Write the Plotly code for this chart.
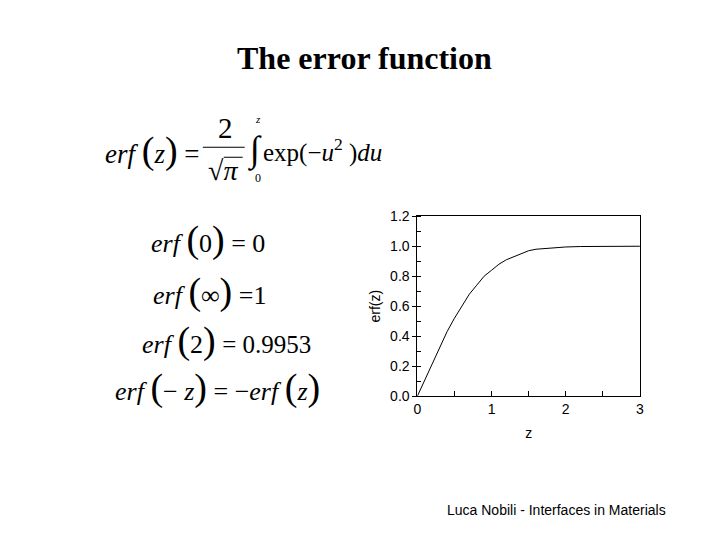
import plotly.graph_objects as go

# values
z_vals = [0.0, 0.1, 0.2, 0.3, 0.4, 0.5, 0.6, 0.7, 0.8, 0.9, 1.0,
          1.1, 1.2, 1.3, 1.4, 1.5, 1.6, 1.7, 1.8, 1.9, 2.0,
          2.2, 2.4, 2.6, 2.8, 3.0]
erf_vals = [0.0, 0.11, 0.22, 0.33, 0.43, 0.52, 0.60, 0.68, 0.74, 0.80, 0.84,
            0.88, 0.91, 0.93, 0.95, 0.97, 0.98, 0.985, 0.99, 0.993, 0.995,
            0.998, 0.999, 1.0, 1.0, 1.0]

x_ticks = [0, 1, 2, 3]
y_ticks = [0.0, 0.2, 0.4, 0.6, 0.8, 1.0, 1.2]

W, H = 728, 546
SERIF = "Liberation Serif"
SANS = "Liberation Sans"


# the photographed page comes out slightly squeezed, so place by screen pixel
def px(x):
    return ((x - 2.8) / 0.991) / W


def py(y):
    return 1 - ((y - 7.7) / 0.971) / H


def big(s, size=38):
    return f'<span style="font-family:{SERIF};font-size:{size}px">{s}</span>'


def rm(s, size=26):
    return f'<span style="font-family:{SERIF};font-size:{size}px">{s}</span>'


fig = go.Figure()
fig.add_trace(go.Scatter(
    x=z_vals, y=erf_vals, mode="lines",
    line=dict(color="black", width=1),
    showlegend=False, hoverinfo="skip",
))

axis_common = dict(
    showgrid=False, zeroline=False, showline=True, mirror=True,
    linecolor="black", linewidth=1,
    tickfont=dict(family=SANS, size=14, color="black"),
    tickcolor="black",
)

fig.update_xaxes(
    range=[0, 3], tickvals=x_ticks, ticks="inside", ticklen=5,
    minor=dict(dtick=0.5, ticks="inside", ticklen=5, tickcolor="black"),
    domain=[px(417), px(640)],
    title=dict(text="z", font=dict(family=SANS, size=14, color="black"), standoff=12),
    **axis_common,
)
fig.update_yaxes(
    range=[0, 1.2], tickvals=y_ticks, ticktext=[f"{v:.1f}" for v in y_ticks],
    ticks="outside", ticklen=4,
    minor=dict(dtick=0.1, ticks="inside", ticklen=4, tickcolor="black"),
    domain=[py(396), py(216)],
    title=dict(text="erf(z)", font=dict(family=SANS, size=14, color="black"), standoff=6),
    **axis_common,
)

ann = []


def text(x, y, s, size=26, anchor="left", family=SERIF):
    ann.append(dict(x=px(x), y=py(y), xref="paper", yref="paper",
                    text=s, showarrow=False, xanchor=anchor, yanchor="middle",
                    font=dict(family=family, size=size, color="black")))


# title
text(364, 58, "<b>The error function</b>", size=32, anchor="center")

# definition
text(102, 150, f"<i>erf</i> {big('(')}<i>z</i>{big(')')} {rm('=', 27)}", size=27)
text(225, 128, "2", size=29, anchor="center")
text(222, 170, "√<i>π</i>", size=28, anchor="center")
text(254, 150, "∫", size=36, anchor="center")
text(257, 119, "<i>z</i>", size=11, anchor="center")
text(257, 178, "0", size=12, anchor="center")
text(260, 150, "exp(−<i>u</i><sup>2</sup> )<i>du</i>", size=25)

# properties
text(148, 239, f"<i>erf</i> {big('(')}0{big(')')} {rm('= 0')}")
text(150, 291, f"<i>erf</i> {big('(')}∞{big(')')} {rm('=1')}")
text(139, 340, f"<i>erf</i> {big('(')}2{big(')')} {rm('= 0.9953', 25)}")
text(112, 387, f"<i>erf</i> {big('(')}− <i>z</i>{big(')')} {rm('= −')}<i>erf</i> {big('(')}<i>z</i>{big(')')}")

# footer
text(556, 510, "Luca Nobili - Interfaces in Materials", size=14, anchor="center", family=SANS)

fig.update_layout(
    width=W, height=H,
    margin=dict(l=0, r=0, t=0, b=0),
    paper_bgcolor="white", plot_bgcolor="white",
    annotations=ann,
    shapes=[
        dict(type="line", xref="paper", yref="paper",
             x0=px(202), x1=px(244), y0=py(147), y1=py(147),
             line=dict(color="black", width=1)),
        dict(type="line", xref="paper", yref="paper",
             x0=px(223), x1=px(242), y0=py(157), y1=py(157),
             line=dict(color="black", width=1)),
    ],
)

fig.write_html(
    "out.html",
    config={"displayModeBar": False},
    post_script="document.body.style.margin='0';"
                "document.body.style.overflow='hidden';"
                "document.documentElement.style.overflow='hidden';",
)
